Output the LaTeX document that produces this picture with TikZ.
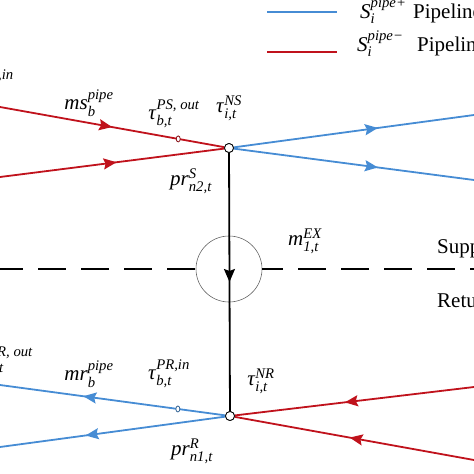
\documentclass[tikz,border=0pt]{standalone}
\usepackage{amsmath}
\usepackage{fontspec}
\setmainfont{Liberation Serif}
\usetikzlibrary{arrows.meta,decorations.markings,shapes.geometric}
\definecolor{pipeblue}{RGB}{70,140,212}
\definecolor{pipered}{RGB}{192,18,28}
\newcommand{\qsym}[3]{\textit{#1}$^{\textit{#3}}_{\textit{#2}}$}

\begin{document}
\begin{tikzpicture}[x=1pt, y=-1pt, >={Stealth[length=13pt,width=11pt,inset=2pt]},
  flow/.style={line width=1.8pt, postaction={decorate},
    decoration={markings, mark=at position #1 with {\arrow{>}}}},
  junc/.style={circle, draw, fill=white, line width=0.8pt, minimum size=9pt, inner sep=0pt},
  sensor/.style={ellipse, draw=#1!70!black, fill=white, line width=0.8pt,
    minimum width=4pt, minimum height=6pt, inner sep=0pt},
  sepline/.style={line width=1.4pt, dash pattern=on 28pt off 15pt, dash phase=#1},
  lbl/.style={font=\fontsize{21}{24}\selectfont, inner sep=0pt}]
    \useasboundingbox (0,0) rectangle (474,474);
    \node[junc] (ns) at (229,148) {};
    \node[junc] (nr) at (230,416) {};
    \node[circle, draw=gray!80!black, line width=0.6pt, minimum size=66pt, inner sep=0pt] (hx) at (229,269) {};
    \coordinate (rsA) at (0,107);
    \coordinate (rsB) at (0,177);
    \coordinate (bsA) at (474,115);
    \coordinate (bsB) at (474,180);
    \coordinate (brA) at (0,385);
    \coordinate (brB) at (0,447);
    \coordinate (rrA) at (474,387);
    \coordinate (rrB) at (474,460);
    \coordinate (wl) at (0,269);
    \coordinate (wr) at (474,269);
    \draw[sepline=5pt] (wl) -- (hx);
    \draw[sepline=7pt] (hx) -- (wr);
    \draw[pipered, flow=0.5] (rsA) -- (ns) node[sensor=pipered, pos=0.795] (snS) {};
    \draw[pipered, flow=0.52] (rsB) -- (ns);
    \draw[pipeblue, flow=0.6] (ns) -- (bsA);
    \draw[pipeblue, flow=0.6] (ns) -- (bsB);
    \draw[pipeblue, flow=0.63] (nr) -- (brA) node[sensor=pipeblue, pos=0.21] (snR) {};
    \draw[pipeblue, flow=0.62] (nr) -- (brB);
    \draw[pipered, flow=0.54] (rrA) -- (nr);
    \draw[pipered, flow=0.52] (rrB) -- (nr);
    \draw[flow=0.5] (ns) -- (nr);
    \node[junc] at (ns) {};
    \node[junc] at (nr) {};
    \node[lbl, anchor=north east] (tPSi) at (14,70) {\qsym{τ}{b,t}{PS,in}};
    \node[lbl] (msP) at (89,103) {\qsym{ms}{b}{pipe}};
    \node[lbl] (tPSo) at (174,114) {\qsym{τ}{b,t}{PS, out}};
    \node[lbl] (tNS) at (229,108) {\qsym{τ}{i,t}{NS}};
    \node[lbl] (prS) at (191,181) {\qsym{pr}{n2,t}{S}};
    \node[lbl] (mEX) at (305,241) {\qsym{m}{1,t}{EX}};
    \node[lbl, anchor=base west] (sup) at (437,253) {Supply side};
    \node[lbl, anchor=base west] (ret) at (437,307) {Return side};
    \node[lbl, anchor=north east] (tPRo) at (33,347) {\qsym{τ}{b,t}{PR, out}};
    \node[lbl] (mrP) at (89,374) {\qsym{mr}{b}{pipe}};
    \node[lbl] (tPRi) at (169,374) {\qsym{τ}{b,t}{PR,in}};
    \node[lbl] (tNR) at (261,381) {\qsym{τ}{i,t}{NR}};
    \node[lbl] (prR) at (192,451) {\qsym{pr}{n1,t}{R}};
    \coordinate (lgA) at (267,12);
    \coordinate (lgB) at (337,12);
    \coordinate (lgC) at (267,52);
    \coordinate (lgD) at (337,52);
    \draw[pipeblue, line width=1.4pt] (lgA) -- (lgB);
    \draw[pipered, line width=1.4pt] (lgC) -- (lgD);
    \node[lbl, anchor=base west] (lgS1) at (360,18) {\qsym{S}{i}{pipe+}};
    \node[lbl, anchor=base west] (lgT1) at (413,18) {Pipeline};
    \node[lbl, anchor=base west] (lgS2) at (357,51) {\qsym{S}{i}{pipe−}};
    \node[lbl, anchor=base west] (lgT2) at (417,51) {Pipeline};
\end{tikzpicture}
\end{document}
